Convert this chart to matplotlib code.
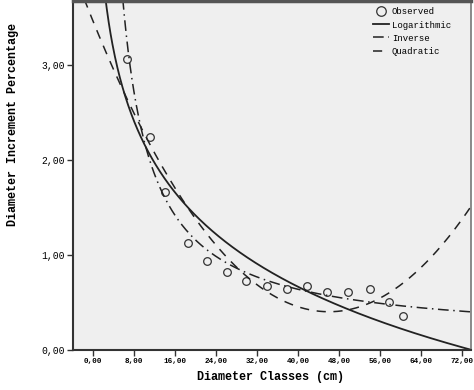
import numpy as np
import matplotlib
matplotlib.use('Agg')
import matplotlib.pyplot as plt

# observed diameter increment percentages per diameter class
diam_classes = [6.6, 11.1, 14.0, 18.5, 22.2, 26.1, 29.9, 33.9, 37.8, 41.7, 45.6, 49.8, 54.0, 57.8, 60.5]
incr_pct = [3.06, 2.24, 1.66, 1.12, 0.94, 0.82, 0.72, 0.67, 0.64, 0.67, 0.61, 0.61, 0.64, 0.50, 0.36]

# fitted model coefficients
log_coef = [4.663, -1.084]           # a + b*ln(x)
inv_coef = [0.118, 20.78]            # a + b/x
quad_coef = [3.461, -0.1329, 0.001443]  # a + b*x + c*x^2

x_ticks = [0, 8, 16, 24, 32, 40, 48, 56, 64, 72]
y_ticks = [0, 1, 2, 3]

mono = 'Liberation Mono'

fig = plt.figure(figsize=(4.74, 3.90), dpi=100)
ax = fig.add_axes([0.154, 0.103, 0.840, 0.894])
ax.set_facecolor('#efefef')

xmin, xmax = -3.9, 73.8
ymin, ymax = 0, 3.67

xs = np.linspace(0.5, xmax, 600)
ax.plot(diam_classes, incr_pct, 'o', mfc='none', mec='#333333', ms=5.5, mew=0.9, label='Observed')
ax.plot(xs, log_coef[0] + log_coef[1] * np.log(xs), '-', color='#222222', lw=1.3, label='Logarithmic')
ax.plot(xs, inv_coef[0] + inv_coef[1] / xs, color='#222222', lw=1.1,
        dashes=(7, 3, 1, 3), label='Inverse')
xq = np.linspace(xmin, xmax, 600)
ax.plot(xq, quad_coef[0] + quad_coef[1] * xq + quad_coef[2] * xq ** 2, color='#222222', lw=1.1,
        dashes=(6, 5), label='Quadratic')

ax.set_xlim(xmin, xmax)
ax.set_ylim(ymin, ymax)
ax.set_xticks(x_ticks)
ax.set_xticklabels([('%.2f' % v).replace('.', ',') for v in x_ticks], fontsize=5.5, family=mono, fontweight='bold')
ax.set_yticks(y_ticks)
ax.set_yticklabels([('%.2f' % v).replace('.', ',') for v in y_ticks], fontsize=7, family=mono)
ax.tick_params(length=4, width=1, color='#333333', pad=2)

ax.spines['left'].set_color('#333333')
ax.spines['left'].set_linewidth(1.5)
ax.spines['bottom'].set_color('#333333')
ax.spines['bottom'].set_linewidth(1.5)
ax.spines['top'].set_color('#555555')
ax.spines['top'].set_linewidth(2.5)
ax.spines['right'].set_color('#777777')
ax.spines['right'].set_linewidth(1.2)

ax.set_xlabel('Diameter Classes (cm)', family=mono, fontweight='bold', fontsize=8.5)
ax.set_ylabel('Diameter Increment Percentage', family=mono, fontweight='bold', fontsize=8.5)
ax.xaxis.set_label_coords(0.495, -0.06)
ax.yaxis.set_label_coords(-0.135, 0.645)

leg = ax.legend(loc='upper right', bbox_to_anchor=(0.965, 1.0), frameon=False,
                prop={'family': mono, 'size': 6.5}, markerscale=1.25,
                handlelength=1.8, handletextpad=0.3, labelspacing=0.45, borderaxespad=0.3)

fig.savefig('out.png', dpi=100)
